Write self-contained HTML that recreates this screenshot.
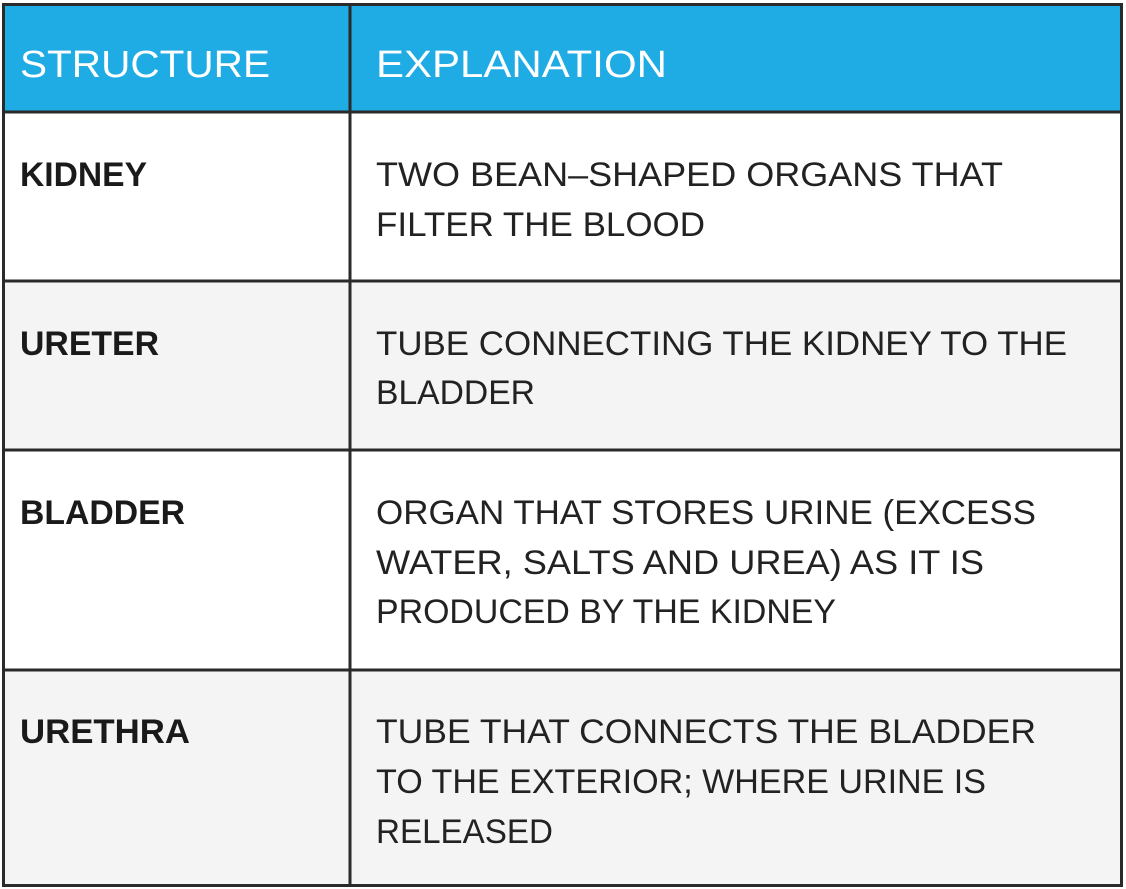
<!DOCTYPE html>
<html><head><meta charset="utf-8"><style>html,body{margin:0;padding:0;background:#fff}svg{display:block}</style></head><body>
<svg width="1126" height="889" viewBox="0 0 1126 889" xmlns="http://www.w3.org/2000/svg">
<rect x="0" y="0" width="1126" height="889" fill="#fff"/>
<rect x="3" y="3" width="1119" height="110" fill="#1fabe3"/>
<rect x="3" y="113" width="1119" height="168" fill="#ffffff"/>
<rect x="3" y="281" width="1119" height="169" fill="#f4f4f4"/>
<rect x="3" y="450" width="1119" height="220" fill="#ffffff"/>
<rect x="3" y="670" width="1119" height="216" fill="#f4f4f4"/>
<g stroke="#2a2a2a" stroke-width="3" fill="none">
<rect x="3.5" y="4.5" width="1118" height="881"/>
<line x1="350" y1="4" x2="350" y2="886"/>
<line x1="3" y1="112" x2="1122" y2="112"/>
<line x1="3" y1="281" x2="1122" y2="281"/>
<line x1="3" y1="450" x2="1122" y2="450"/>
<line x1="3" y1="670" x2="1122" y2="670"/>
</g>
<g font-family="Liberation Sans, sans-serif" font-size="38" fill="#fff" lengthAdjust="spacingAndGlyphs">
<text x="20" y="77" textLength="250" lengthAdjust="spacingAndGlyphs">STRUCTURE</text>
<text x="376" y="77" textLength="291" lengthAdjust="spacingAndGlyphs">EXPLANATION</text>
</g>
<g font-family="Liberation Sans, sans-serif" font-size="34" fill="#1a1a1a" font-weight="bold">
<text x="20" y="186" textLength="127" lengthAdjust="spacingAndGlyphs">KIDNEY</text>
<text x="20" y="355" textLength="139" lengthAdjust="spacingAndGlyphs">URETER</text>
<text x="20" y="524" textLength="165" lengthAdjust="spacingAndGlyphs">BLADDER</text>
<text x="20" y="743" textLength="170" lengthAdjust="spacingAndGlyphs">URETHRA</text>
</g>
<g font-family="Liberation Sans, sans-serif" font-size="34" fill="#222">
<text x="376" y="186" textLength="627" lengthAdjust="spacingAndGlyphs">TWO BEAN–SHAPED ORGANS THAT</text>
<text x="376" y="236" textLength="329" lengthAdjust="spacingAndGlyphs">FILTER THE BLOOD</text>
<text x="376" y="355" textLength="691" lengthAdjust="spacingAndGlyphs">TUBE CONNECTING THE KIDNEY TO THE</text>
<text x="376" y="404" textLength="159" lengthAdjust="spacingAndGlyphs">BLADDER</text>
<text x="376" y="524" textLength="660" lengthAdjust="spacingAndGlyphs">ORGAN THAT STORES URINE (EXCESS</text>
<text x="376" y="574" textLength="608" lengthAdjust="spacingAndGlyphs">WATER, SALTS AND UREA) AS IT IS</text>
<text x="376" y="623" textLength="460" lengthAdjust="spacingAndGlyphs">PRODUCED BY THE KIDNEY</text>
<text x="376" y="743" textLength="660" lengthAdjust="spacingAndGlyphs">TUBE THAT CONNECTS THE BLADDER</text>
<text x="376" y="793" textLength="610" lengthAdjust="spacingAndGlyphs">TO THE EXTERIOR; WHERE URINE IS</text>
<text x="376" y="843" textLength="177" lengthAdjust="spacingAndGlyphs">RELEASED</text>
</g>
</svg>
</body></html>
